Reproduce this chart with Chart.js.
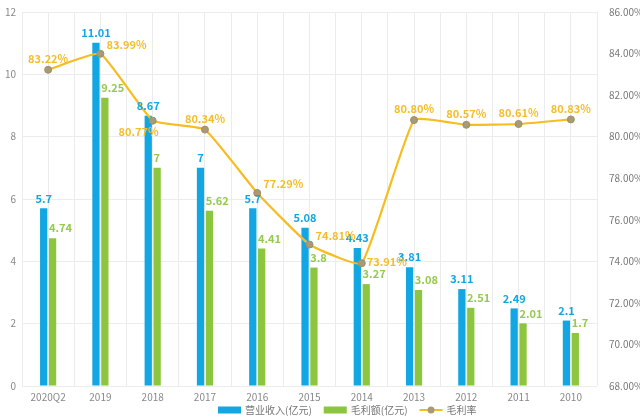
<!DOCTYPE html>
<html>
<head>
<meta charset="utf-8">
<script src="https://cdn.jsdelivr.net/npm/chart.js@4/dist/chart.umd.min.js"></script>
<style>
  html, body { margin: 0; padding: 0; background: #fff; }
  #wrap { width: 640px; height: 420px; position: relative; }
</style>
</head>
<body>
<div id="wrap"><canvas id="c" width="640" height="420"></canvas></div>
<script>
// Revenue / gross profit bars (left axis, 亿元) + gross margin line (right axis, %)
const categories  = ["2020Q2", "2019", "2018", "2017", "2016", "2015", "2014", "2013", "2012", "2011", "2010"];
const revenue     = [5.7, 11.01, 8.67, 7, 5.7, 5.08, 4.43, 3.81, 3.11, 2.49, 2.1];
const grossProfit = [4.74, 9.25, 7, 5.62, 4.41, 3.8, 3.27, 3.08, 2.51, 2.01, 1.7];
const grossMargin = [83.22, 83.99, 80.77, 80.34, 77.29, 74.81, 73.91, 80.80, 80.57, 80.61, 80.83];
const seriesNames = ["营业收入(亿元)", "毛利额(亿元)", "毛利率"];

// where each margin label sits relative to its point
const marginLabelPlace = ["top", "right", "leftBelow", "top", "right", "right", "rightMid", "top", "top", "top", "top"];

const BLUE = "#12a7e3";
const GREEN = "#8cc63f";
const GOLD = "#f5bd1f";
const FONT = "'Noto Sans CJK SC', 'Noto Sans', sans-serif";
const GRID = "#ececec";

const valueLabels = {
  id: "valueLabels",
  afterDatasetsDraw(chart) {
    const c = chart.ctx;
    c.save();
    c.textBaseline = "middle";
    // bars
    [0, 1].forEach((di) => {
      const meta = chart.getDatasetMeta(di);
      const vals = chart.data.datasets[di].data;
      meta.data.forEach((el, i) => {
        if (di === 0) {
          c.font = `bold 11px ${FONT}`;
          c.fillStyle = BLUE;
          c.textAlign = "center";
          c.fillText(String(vals[i]), el.x, el.y - 10);
        } else {
          c.font = `bold 11px ${FONT}`;
          c.fillStyle = "#95c94f";
          c.textAlign = "left";
          c.fillText(String(vals[i]), el.x - el.width / 2, el.y - 10);
        }
      });
    });
    // line
    const lm = chart.getDatasetMeta(2);
    c.font = `bold 11px ${FONT}`;
    c.fillStyle = "#f4bd2a";
    lm.data.forEach((el, i) => {
      const txt = grossMargin[i].toFixed(2) + "%";
      const p = marginLabelPlace[i];
      if (p === "top") { c.textAlign = "center"; c.fillText(txt, el.x, el.y - 11); }
      else if (p === "right") { c.textAlign = "left"; c.fillText(txt, el.x + 6, el.y - 9); }
      else if (p === "rightMid") { c.textAlign = "left"; c.fillText(txt, el.x + 5, el.y - 1); }
      else { c.textAlign = "right"; c.fillText(txt, el.x + 6, el.y + 11); }
    });
    c.restore();
  },
  afterDraw(chart) {
    // bottom legend
    const c = chart.ctx;
    c.save();
    c.font = `10px ${FONT}`;
    c.textBaseline = "middle";
    c.textAlign = "left";
    const y = 410;
    let x = 218;
    const items = [
      { name: seriesNames[0], color: BLUE, type: "bar" },
      { name: seriesNames[1], color: GREEN, type: "bar" },
      { name: seriesNames[2], color: GOLD, type: "line" },
    ];
    items.forEach((it) => {
      if (it.type === "bar") {
        c.fillStyle = it.color;
        c.fillRect(x, y - 3.5, 23, 7);
      } else {
        c.strokeStyle = it.color;
        c.lineWidth = 2;
        c.beginPath(); c.moveTo(x, y); c.lineTo(x + 23, y); c.stroke();
        c.fillStyle = "#a89a76";
        c.beginPath(); c.arc(x + 11.5, y, 3.5, 0, Math.PI * 2); c.fill();
      }
      c.fillStyle = "#777";
      c.fillText(it.name, x + 27, y);
      x += 27 + c.measureText(it.name).width + 12;
    });
    c.restore();
  },
};

new Chart(document.getElementById("c"), {
  data: {
    labels: categories,
    datasets: [
      {
        type: "bar", label: seriesNames[0], data: revenue, yAxisID: "y",
        backgroundColor: BLUE, categoryPercentage: 0.34, barPercentage: 0.82, order: 2,
      },
      {
        type: "bar", label: seriesNames[1], data: grossProfit, yAxisID: "y",
        backgroundColor: GREEN, categoryPercentage: 0.34, barPercentage: 0.82, order: 2,
      },
      {
        type: "line", label: seriesNames[2], data: grossMargin, yAxisID: "y1",
        borderColor: GOLD, borderWidth: 2.2, tension: 0.12,
        pointRadius: 3.5, pointBackgroundColor: "#a89a76", pointBorderColor: "#a08f66",
        pointBorderWidth: 1, order: 0,
      },
    ],
  },
  options: {
    responsive: false,
    animation: false,
    layout: { padding: { top: 12, bottom: 12 } },
    plugins: { legend: { display: false }, tooltip: { enabled: false } },
    scales: {
      x: {
        type: "category",
        offset: true,
        grid: { color: GRID, offset: false, drawTicks: false },
        border: { display: false },
        ticks: { color: "#888", font: { size: 10, family: FONT }, padding: 5, maxRotation: 0, autoSkip: false },
      },
      xg: {
        type: "linear", position: "bottom", min: -0.5, max: 10.5,
        grid: { color: GRID, drawTicks: false },
        border: { display: false },
        ticks: { display: false, stepSize: 1 },
        afterFit(s) { s.height = 0; },
      },
      y: {
        position: "left", min: 0, max: 12,
        grid: { color: GRID, drawTicks: false },
        border: { display: false },
        ticks: { stepSize: 2, color: "#888", font: { size: 10, family: FONT }, padding: 6 },
        afterFit(s) { s.width = 22; },
      },
      y1: {
        position: "right", min: 68, max: 86,
        grid: { display: false },
        border: { display: false },
        ticks: {
          stepSize: 2, color: "#777", font: { size: 10, family: FONT }, padding: 4,
          callback: (v) => v.toFixed(2) + "%",
        },
        afterFit(s) { s.width = 43; },
      },
    },
  },
  plugins: [valueLabels],
});
</script>
</body>
</html>
